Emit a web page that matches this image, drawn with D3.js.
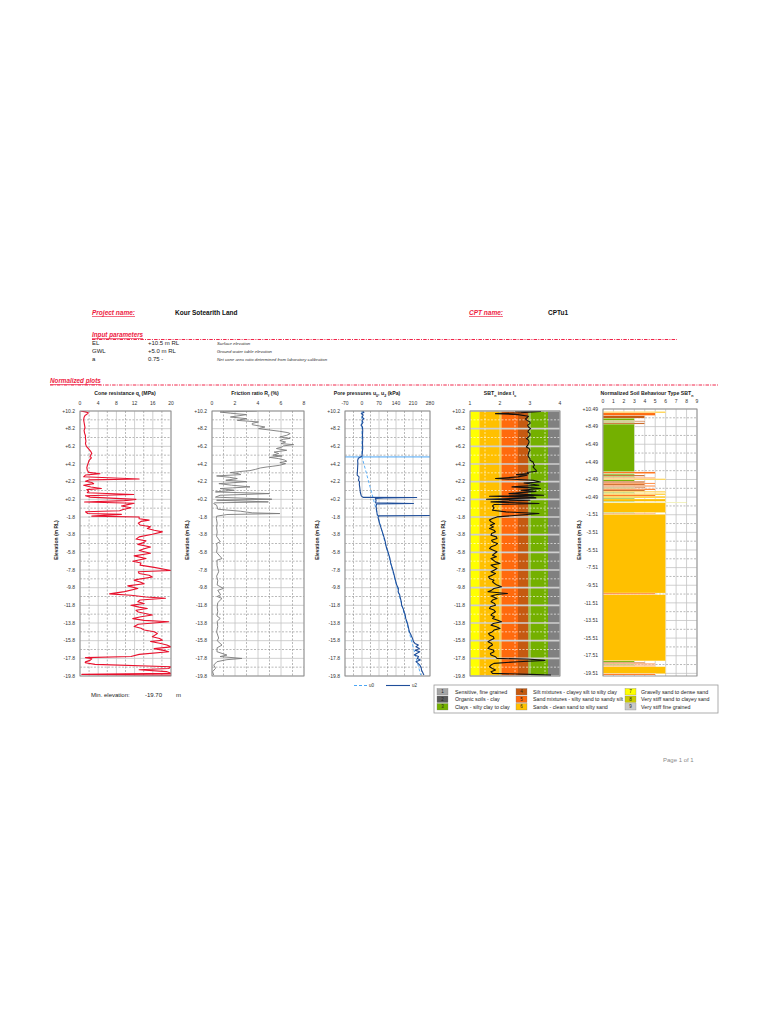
<!DOCTYPE html>
<html>
<head>
<meta charset="utf-8">
<script src="https://cdn.jsdelivr.net/npm/d3@7"></script>
<style>
  body { margin: 0; background: #fff; }
  svg { display: block; font-family: "Liberation Sans", Arial, sans-serif; }
</style>
</head>
<body>
<svg id="chart" width="768" height="1024"></svg>
<script>
// ---- data ----
var elevTicks = [10.2, 8.2, 6.2, 4.2, 2.2, 0.2, -1.8, -3.8, -5.8, -7.8, -9.8, -11.8, -13.8, -15.8, -17.8, -19.8];
var sbtElevTicks = [10.49, 8.49, 6.49, 4.49, 2.49, 0.49, -1.51, -3.51, -5.51, -7.51, -9.51, -11.51, -13.51, -15.51, -17.51, -19.51];
var qtTicks = [0, 4, 8, 12, 16, 20];
var rfTicks = [0, 2, 4, 6, 8];
var uTicks = [-70, 0, 70, 140, 210, 280];
var icTicks = [1, 2, 3, 4];
var sbtTicks = [0, 1, 2, 3, 4, 5, 6, 7, 8, 9];

var inputNames = ["EL", "GWL", "a"];
var inputValues = ["+10.5 m RL", "+5.0 m RL", "0.75 -"];
var inputNotes = ["Surface elevation", "Ground water table elevation", "Net cone area ratio determined from laboratory calibration"];
var minElevation = "-19.70";
var gwl = 5.0;

// [elevation m RL, cone resistance MPa]
var qt = [[10.2,0.1],[10.1,1.2],[10.0,1.8],[9.9,1.7],[9.7,1.1],[9.5,0.9],[9.2,0.8],[8.9,0.9],[8.6,1.0],[8.3,1.1],[8.0,0.9],[7.7,1.0],[7.4,1.2],[7.1,1.2],[6.8,1.3],[6.5,1.2],[6.2,1.4],[5.9,1.9],[5.6,2.4],[5.4,2.6],[5.1,2.2],[4.9,2.5],[4.6,2.0],[4.3,1.8],[4.0,1.6],[3.8,1.5],[3.5,1.6],[3.25,1.9],[3.1,4.4],[2.95,1.2],[2.75,0.8],[2.5,13.0],[2.4,2.0],[2.25,1.2],[2.1,2.6],[1.98,3.0],[1.8,0.8],[1.6,2.4],[1.42,4.7],[1.3,1.5],[1.1,1.9],[0.95,1.6],[0.75,11.8],[0.6,1.2],[0.45,2.2],[0.2,12.3],[0.05,9.8],[-0.1,1.0],[-0.25,11.9],[-0.4,10.5],[-0.55,9.1],[-0.75,11.2],[-0.95,9.5],[-1.1,8.7],[-1.2,1.2],[-1.4,1.7],[-1.5,9.1],[-1.7,2.6],[-1.8,13.0],[-2.0,13.0],[-2.15,15.2],[-2.3,13.4],[-2.5,12.8],[-2.7,13.2],[-2.9,15.5],[-3.1,14.8],[-3.3,16.3],[-3.48,18.1],[-3.75,15.9],[-4.05,13.0],[-4.3,12.3],[-4.5,14.5],[-4.7,14.0],[-4.9,12.7],[-5.2,15.5],[-5.4,14.1],[-5.6,13.0],[-5.9,15.5],[-6.2,11.9],[-6.5,14.5],[-6.8,11.6],[-7.0,13.4],[-7.25,13.2],[-7.5,16.3],[-7.85,20.0],[-8.0,12.8],[-8.2,13.0],[-8.4,15.2],[-8.6,15.9],[-8.8,13.4],[-8.95,11.9],[-9.15,13.2],[-9.35,14.1],[-9.6,10.5],[-9.9,12.7],[-10.25,9.8],[-10.5,6.5],[-10.65,11.2],[-10.85,14.5],[-11.0,18.8],[-11.2,13.2],[-11.4,12.7],[-11.6,14.1],[-11.8,11.2],[-12.0,13.0],[-12.15,14.8],[-12.35,12.3],[-12.55,12.8],[-12.9,15.9],[-13.1,13.4],[-13.3,11.6],[-13.5,14.1],[-13.66,19.5],[-13.95,12.8],[-14.2,11.9],[-14.4,13.4],[-14.6,14.1],[-14.8,16.3],[-15.0,17.0],[-15.35,15.9],[-15.55,17.5],[-15.75,18.1],[-15.9,15.5],[-16.1,17.5],[-16.3,19.1],[-16.5,20.0],[-16.7,16.3],[-16.9,18.4],[-17.05,19.5],[-17.35,13.0],[-17.6,11.2],[-17.72,1.2],[-17.85,2.6],[-18.03,2.2],[-18.2,1.2],[-18.3,1.15],[-18.48,3.3],[-18.75,20.0],[-18.95,19.5],[-19.1,13.0],[-19.3,19.0],[-19.5,20.0],[-19.62,0.4],[-19.7,20.0]];

// [elevation m RL, friction ratio %]
var rf = [[10.2,3.9],[10.09,0.7],[9.95,1.6],[9.79,3.0],[9.6,2.0],[9.52,1.6],[9.33,3.0],[9.14,2.2],[8.96,4.05],[8.8,3.5],[8.65,3.5],[8.39,4.6],[8.2,4.05],[8.05,5.0],[7.9,5.9],[7.75,6.6],[7.64,6.8],[7.45,6.5],[7.26,5.9],[7.1,6.8],[7.0,6.2],[6.85,5.9],[6.69,6.4],[6.51,6.0],[6.39,7.1],[6.25,6.2],[6.13,6.1],[5.95,5.6],[5.75,6.5],[5.55,5.4],[5.38,5.8],[5.2,5.3],[5.11,6.1],[4.95,5.0],[4.81,5.8],[4.65,6.3],[4.51,6.5],[4.36,5.9],[4.24,6.4],[4.06,5.9],[3.95,5.3],[3.87,4.8],[3.75,4.2],[3.6,3.8],[3.45,3.3],[3.38,2.7],[3.23,1.6],[3.11,2.3],[3.0,2.5],[2.85,0.4],[2.7,1.5],[2.55,2.2],[2.36,1.2],[2.2,3.0],[2.05,1.5],[1.98,0.6],[1.8,1.7],[1.61,3.3],[1.5,1.8],[1.42,0.7],[1.23,1.9],[1.04,0.3],[0.85,5.0],[0.66,0.7],[0.45,0.3],[0.21,5.2],[0.1,0.4],[-0.09,4.9],[-0.2,0.2],[-0.28,0.15],[-0.47,0.4],[-0.66,0.45],[-0.92,0.5],[-1.15,2.5],[-1.33,3.5],[-1.41,5.9],[-1.52,1.3],[-1.71,0.4],[-1.97,0.38],[-2.5,0.45],[-3.0,0.4],[-3.5,0.45],[-4.0,0.4],[-4.6,0.72],[-4.8,0.4],[-5.3,0.45],[-5.8,0.4],[-6.5,0.87],[-6.7,0.43],[-7.3,0.45],[-8.0,0.58],[-8.5,0.4],[-9.0,0.5],[-9.5,0.45],[-9.89,1.0],[-10.1,0.5],[-10.6,0.75],[-10.8,0.45],[-11.02,0.87],[-11.5,0.5],[-12.0,0.45],[-12.5,0.5],[-13.0,0.43],[-13.28,0.72],[-13.6,0.45],[-14.2,0.5],[-14.8,0.4],[-15.5,0.58],[-15.8,0.45],[-16.3,0.87],[-16.6,0.45],[-17.05,0.43],[-17.43,1.3],[-17.6,0.7],[-17.81,2.6],[-17.95,1.3],[-18.18,0.43],[-18.56,0.15],[-18.94,0.3],[-19.31,0.05],[-19.7,0.15]];

// [elevation m RL, u2 kPa]
var u2 = [[10.2,3],[10.05,8],[9.9,-3],[9.75,5],[9.5,0],[9.33,8],[9.14,0],[8.9,4],[8.6,-4],[8.39,2],[8.0,3],[7.5,2],[7.0,3],[6.5,2],[6.0,3],[5.4,1],[5.1,0],[5.0,-6],[4.85,-15],[4.6,-18],[4.3,-17],[3.8,-18],[3.3,-19],[2.95,-20],[2.75,-12],[2.5,-13],[2.36,-15],[2.2,-10],[1.9,-11],[1.5,-9],[1.0,-7],[0.6,-3],[0.47,2],[0.42,5],[0.4,225],[0.36,90],[0.3,55],[0.1,58],[-0.2,56],[-0.28,212],[-0.33,60],[-0.6,58],[-1.0,60],[-1.4,62],[-1.6,63],[-1.63,290],[-1.67,70],[-1.85,66],[-2.5,72],[-3.0,78],[-3.86,88],[-4.5,95],[-5.2,100],[-5.74,107],[-6.5,115],[-7.0,118],[-7.63,125],[-8.2,131],[-9.0,138],[-9.51,143],[-9.9,150],[-10.3,149],[-10.6,155],[-11.0,158],[-11.4,162],[-11.8,163],[-12.2,170],[-12.53,173],[-12.9,178],[-13.28,180],[-13.66,185],[-14.04,189],[-14.4,192],[-14.79,195],[-15.17,202],[-15.55,208],[-15.9,212],[-16.11,218],[-16.3,232],[-16.49,222],[-16.68,236],[-16.9,220],[-17.05,238],[-17.25,225],[-17.43,215],[-17.6,233],[-17.81,228],[-18.0,240],[-18.18,222],[-18.4,232],[-18.56,238],[-18.9,244],[-19.12,245],[-19.4,250],[-19.7,255]];

// [elevation m RL, u0 kPa]
var u0 = [[10.2,0],[5.0,0],[-19.7,242]];

// [elevation m RL, Ic]
var ic = [[10.2,2.5],[10.15,3.35],[10.0,2.7],[9.9,1.85],[9.79,2.6],[9.6,2.95],[9.3,2.85],[9.14,2.9],[8.96,3.0],[8.77,3.0],[8.6,2.92],[8.39,2.95],[8.2,3.02],[8.0,2.95],[7.83,2.93],[7.64,3.0],[7.45,3.0],[7.26,2.95],[7.07,2.88],[6.9,2.95],[6.69,2.97],[6.51,2.95],[6.3,2.92],[6.13,2.88],[5.95,2.97],[5.75,3.0],[5.55,2.96],[5.38,2.95],[5.2,2.93],[5.0,2.95],[4.81,3.0],[4.62,3.0],[4.43,3.1],[4.24,3.12],[4.06,3.15],[3.87,3.1],[3.68,3.15],[3.5,3.2],[3.38,3.22],[3.23,2.9],[3.11,2.95],[3.0,2.55],[2.93,2.9],[2.74,2.6],[2.55,1.85],[2.45,2.6],[2.36,3.1],[2.17,3.35],[2.05,2.8],[1.79,3.3],[1.61,2.4],[1.5,3.1],[1.42,3.35],[1.23,2.7],[1.1,3.2],[0.85,2.3],[0.66,3.45],[0.55,1.65],[0.45,3.1],[0.36,3.2],[0.21,1.55],[0.1,3.0],[-0.01,2.1],[-0.09,1.7],[-0.2,2.6],[-0.28,3.3],[-0.39,1.8],[-0.54,1.75],[-0.77,1.8],[-1.03,1.75],[-1.22,2.2],[-1.41,3.3],[-1.6,2.6],[-1.79,1.9],[-1.97,1.75],[-2.15,1.65],[-2.35,1.7],[-2.55,1.82],[-2.73,1.68],[-2.92,1.78],[-3.11,1.65],[-3.3,1.8],[-3.48,1.85],[-3.67,1.72],[-3.86,1.7],[-4.05,1.88],[-4.24,1.9],[-4.43,1.72],[-4.61,1.75],[-4.8,1.92],[-4.99,1.85],[-5.18,1.7],[-5.37,1.65],[-5.56,1.78],[-5.74,1.9],[-5.93,1.82],[-6.12,1.75],[-6.3,1.88],[-6.5,1.7],[-6.69,1.78],[-6.88,1.85],[-7.06,2.0],[-7.25,1.7],[-7.44,1.78],[-7.63,1.9],[-7.82,1.8],[-8.01,1.7],[-8.19,1.85],[-8.38,1.75],[-8.57,1.62],[-8.76,1.65],[-8.95,1.8],[-9.14,1.75],[-9.33,1.82],[-9.51,1.9],[-9.7,2.05],[-9.89,1.8],[-10.08,1.72],[-10.27,1.6],[-10.46,2.25],[-10.57,1.9],[-10.75,1.7],[-11.02,1.9],[-11.2,1.75],[-11.4,1.7],[-11.6,1.82],[-11.78,1.85],[-11.97,1.68],[-12.15,1.65],[-12.34,1.8],[-12.53,1.85],[-12.72,1.75],[-12.91,1.7],[-13.1,1.82],[-13.28,1.75],[-13.47,1.9],[-13.66,2.05],[-13.85,1.78],[-14.04,1.7],[-14.23,1.88],[-14.42,2.0],[-14.6,1.8],[-14.79,1.75],[-14.98,1.62],[-15.17,1.65],[-15.36,1.78],[-15.55,1.8],[-15.74,1.68],[-15.92,1.6],[-16.11,1.72],[-16.3,1.75],[-16.49,1.65],[-16.68,1.6],[-16.86,1.78],[-17.05,1.8],[-17.24,1.68],[-17.43,1.7],[-17.62,1.85],[-17.81,1.9],[-17.88,2.9],[-18.03,3.5],[-18.18,2.6],[-18.37,1.8],[-18.56,1.7],[-18.75,1.65],[-18.94,1.75],[-19.12,1.85],[-19.31,1.7],[-19.5,1.75],[-19.62,3.0],[-19.7,3.7]];

// Ic zone boundaries and band colours (gravelly sand .. organic)
var icBandEdges = [1, 1.31, 2.05, 2.6, 2.95, 3.6, 4];
var icBandColors = ["#ffff00", "#ffc000", "#ff6a0d", "#c55a11", "#74b000", "#808080"];

// SBTn layers: [top elevation m RL, zone]; last layer ends at minimum elevation
var sbtLayers = [[10.2,6],[10.05,5],[9.75,4],[9.45,3],[9.15,4],[9.05,3],[8.92,4],[8.78,3],[3.35,5],[3.15,3],[3.0,4],[2.85,3],[2.72,5],[2.58,6],[2.45,3],[2.3,4],[2.1,5],[1.98,4],[1.82,5],[1.68,4],[1.55,3],[1.45,5],[1.3,4],[1.16,6],[1.02,3],[0.9,6],[0.74,5],[0.6,6],[0.4,3],[0.28,6],[0.0,3],[-0.08,8],[-0.16,6],[-1.27,3],[-1.36,5],[-1.46,6],[-10.4,5],[-10.58,6],[-18.1,3],[-18.25,4],[-18.38,5],[-18.5,3],[-18.62,5],[-18.75,6],[-19.56,5]];
var sbtBottom = -19.7;

var zoneNums = [1, 2, 3, 4, 5, 6, 7, 8, 9];
var zoneColors = ["#a6a6a6", "#5a5a5a", "#74b000", "#c55a11", "#ff6a0d", "#ffc000", "#ffff00", "#cccc00", "#c8c8c8"];
var zoneNames = ["Sensitive, fine grained", "Organic soils - clay", "Clays - silty clay to clay",
  "Silt mixtures - clayey silt to silty clay", "Sand mixtures - silty sand to sandy silt", "Sands - clean sand to silty sand",
  "Gravelly sand to dense sand", "Very stiff sand to clayey sand", "Very stiff fine grained"];

// ---- drawing ----
var svg = d3.select("#chart");
var RED = "#ee1c3f";

var yStd = d3.scaleLinear().domain([10.2, -19.8]).range([411, 676]);
var ySbt = d3.scaleLinear().domain([10.49, -19.81]).range([409, 676]);

function fmtElev(d) {
  var dec = Math.abs(d * 10 - Math.round(d * 10)) > 1e-6 ? 2 : 1;
  return (d > 0 ? "+" : "") + d.toFixed(dec);
}

// text with subscripts: parts = [[text, isSub], ...]
function richText(g, parts, x, y, size, anchor) {
  var t = g.append("text").attr("x", x).attr("y", y)
    .attr("font-size", size).attr("font-weight", "bold")
    .attr("text-anchor", anchor || "middle").attr("fill", "#222");
  parts.forEach(function (p) {
    var s = t.append("tspan").text(p[0]);
    if (p[1]) s.attr("font-size", size * 0.7).attr("baseline-shift", "sub");
  });
  return t;
}

var panels = [
  { id: "qt", xr: [80, 171], dom: [0, 20], ticks: qtTicks, y: yStd, yTicks: elevTicks, mode: "std", titleX: 125,
    title: [["Cone resistance q"], ["t", 1], [" (MPa)"]], ytX: 58 },
  { id: "rf", xr: [212, 304], dom: [0, 8], ticks: rfTicks, y: yStd, yTicks: elevTicks, mode: "std", titleX: 255,
    title: [["Friction ratio R"], ["f", 1], [" (%)"]], ytX: 189 },
  { id: "u", xr: [345, 430], dom: [-70, 280], ticks: uTicks, y: yStd, yTicks: elevTicks, mode: "std", titleX: 367,
    title: [["Pore pressures u"], ["0", 1], [", u"], ["2", 1], [" (kPa)"]], ytX: 319 },
  { id: "ic", xr: [470, 560], dom: [1, 4], ticks: icTicks, y: yStd, yTicks: elevTicks, mode: "ic", titleX: 500,
    title: [["SBT"], ["n", 1], [" index I"], ["c", 1]], ytX: 445 },
  { id: "sbt", xr: [603, 697], dom: [0, 9], ticks: sbtTicks, y: ySbt, yTicks: sbtElevTicks, mode: "sbt", titleX: 647,
    title: [["Normalized Soil Behaviour Type SBT"], ["n", 1]], ytX: 581 }
];

var defs = svg.append("defs");

panels.forEach(function (p) {
  var x = d3.scaleLinear().domain(p.dom).range(p.xr);
  var y = p.y;
  p.x = x;
  var g = svg.append("g").attr("class", "panel-" + p.id);
  p.g = g;
  var top = y.range()[0], bot = y.range()[1];
  var x0 = p.xr[0], x1 = p.xr[1];

  defs.append("clipPath").attr("id", "clip-" + p.id)
    .append("rect").attr("x", x0).attr("y", top).attr("width", x1 - x0).attr("height", bot - top);

  // background bands for Ic
  if (p.mode === "ic") {
    g.selectAll("rect.band").data(d3.pairs(icBandEdges)).enter().append("rect")
      .attr("class", "band")
      .attr("x", function (d) { return x(d[0]); })
      .attr("width", function (d) { return x(d[1]) - x(d[0]); })
      .attr("y", top).attr("height", bot - top)
      .attr("fill", function (d, i) { return icBandColors[i]; });
  }

  var minorY = d3.pairs(p.yTicks).map(function (d) { return (d[0] + d[1]) / 2; });
  var minorX = p.mode === "sbt" ? [] : d3.pairs(p.ticks).map(function (d) { return (d[0] + d[1]) / 2; });
  var majorStroke = p.mode === "ic" ? "#cfcfcf" : "#c4c4c4";
  var minorStroke = p.mode === "ic" ? "#ffffff" : "#8a8a8a";
  var majorW = p.mode === "ic" ? 1.6 : 0.8;

  // horizontal grid
  g.selectAll("line.hmin").data(minorY).enter().append("line")
    .attr("x1", x0).attr("x2", x1)
    .attr("y1", function (d) { return y(d); }).attr("y2", function (d) { return y(d); })
    .attr("stroke", minorStroke).attr("stroke-width", 0.6).attr("stroke-dasharray", "2,1.5");
  g.selectAll("line.hmaj").data(p.yTicks).enter().append("line")
    .attr("x1", x0).attr("x2", x1)
    .attr("y1", function (d) { return y(d); }).attr("y2", function (d) { return y(d); })
    .attr("stroke", majorStroke).attr("stroke-width", majorW);
  // vertical grid
  g.selectAll("line.vmin").data(minorX).enter().append("line")
    .attr("y1", top).attr("y2", bot)
    .attr("x1", function (d) { return x(d); }).attr("x2", function (d) { return x(d); })
    .attr("stroke", minorStroke).attr("stroke-width", 0.6).attr("stroke-dasharray", "2,1.5");
  g.selectAll("line.vmaj").data(p.ticks).enter().append("line")
    .attr("y1", top).attr("y2", bot)
    .attr("x1", function (d) { return x(d); }).attr("x2", function (d) { return x(d); })
    .attr("stroke", p.mode === "ic" ? "#dedede" : "#c4c4c4").attr("stroke-width", 0.8);

  // tick labels
  g.selectAll("text.xt").data(p.ticks).enter().append("text")
    .attr("x", function (d) { return x(d); }).attr("y", top - 6)
    .attr("text-anchor", "middle").attr("font-size", 5).attr("fill", "#333")
    .text(function (d) { return d; });
  g.selectAll("text.yt").data(p.yTicks).enter().append("text")
    .attr("x", x0 - 5).attr("y", function (d) { return y(d); }).attr("dy", "0.35em")
    .attr("text-anchor", "end").attr("font-size", 5).attr("fill", "#333")
    .text(fmtElev);

  richText(g, p.title, p.titleX, 395, 5.2);
  g.append("text").attr("transform", "translate(" + p.ytX + ",540) rotate(-90)")
    .attr("text-anchor", "middle").attr("font-size", 5).attr("font-weight", "bold").attr("fill", "#222")
    .text("Elevation (m RL)");

  p.plot = g.append("g").attr("clip-path", "url(#clip-" + p.id + ")");
});

function trace(p, data, color, width, dash) {
  var line = d3.line().x(function (d) { return p.x(d[1]); }).y(function (d) { return p.y(d[0]); });
  var path = p.plot.append("path").datum(data).attr("d", line)
    .attr("fill", "none").attr("stroke", color).attr("stroke-width", width).attr("stroke-linejoin", "round");
  if (dash) path.attr("stroke-dasharray", dash);
}

trace(panels[0], qt, "#e8112d", 1.1);
trace(panels[1], rf, "#7a7a7a", 0.9);

// pore pressure: water table, u0, u2
panels[2].plot.append("line")
  .attr("x1", panels[2].xr[0]).attr("x2", panels[2].xr[1])
  .attr("y1", yStd(gwl)).attr("y2", yStd(gwl))
  .attr("stroke", "#4ba6f5").attr("stroke-width", 1);
trace(panels[2], u0, "#4ba6f5", 0.9, "3,2");
trace(panels[2], u2, "#1f4e9a", 1.1);

trace(panels[3], ic, "#111", 1.1);

// SBTn bars
(function () {
  var p = panels[4];
  var layers = sbtLayers.map(function (d, i) {
    return { top: d[0], bottom: i + 1 < sbtLayers.length ? sbtLayers[i + 1][0] : sbtBottom, zone: d[1] };
  });
  p.plot.selectAll("rect.layer").data(layers).enter().append("rect")
    .attr("x", p.x(0))
    .attr("width", function (d) { return p.x(d.zone) - p.x(0); })
    .attr("y", function (d) { return p.y(d.top); })
    .attr("height", function (d) { return p.y(d.bottom) - p.y(d.top); })
    .attr("fill", function (d) { return zoneColors[d.zone - 1]; })
    .attr("stroke", "#fff").attr("stroke-width", 0.35);
})();

// frames on top
panels.forEach(function (p) {
  var top = p.y.range()[0], bot = p.y.range()[1];
  p.g.append("rect").attr("x", p.xr[0]).attr("y", top)
    .attr("width", p.xr[1] - p.xr[0]).attr("height", bot - top)
    .attr("fill", "none").attr("stroke", "#8c8c8c").attr("stroke-width", 0.9);
});

// pore pressure legend
(function () {
  var g = svg.append("g");
  g.append("line").attr("x1", 354).attr("x2", 367).attr("y1", 685.5).attr("y2", 685.5)
    .attr("stroke", "#4ba6f5").attr("stroke-width", 1).attr("stroke-dasharray", "3,2");
  g.append("text").attr("x", 369).attr("y", 687).attr("font-size", 4.5).attr("fill", "#333").text("u0");
  g.append("line").attr("x1", 386).attr("x2", 410).attr("y1", 685.5).attr("y2", 685.5)
    .attr("stroke", "#1f4e9a").attr("stroke-width", 1.1);
  g.append("text").attr("x", 412).attr("y", 687).attr("font-size", 4.5).attr("fill", "#333").text("u2");
})();

// SBTn legend box
(function () {
  var g = svg.append("g");
  g.append("rect").attr("x", 434).attr("y", 685).attr("width", 284).attr("height", 28)
    .attr("fill", "#fff").attr("stroke", "#9a9a9a").attr("stroke-width", 0.8);
  var colX = [437, 516, 625];
  var txtX = [455, 533, 641];
  var rowY = [688.5, 696, 703.5];
  var items = g.selectAll("g.item").data(zoneNums).enter().append("g")
    .attr("transform", function (d, i) {
      return "translate(" + colX[Math.floor(i / 3)] + "," + rowY[i % 3] + ")";
    });
  items.append("rect").attr("width", 11).attr("height", 6.5)
    .attr("fill", function (d, i) { return zoneColors[i]; })
    .attr("stroke", "#777").attr("stroke-width", 0.3);
  items.append("text").attr("x", 5.5).attr("y", 4.9).attr("text-anchor", "middle")
    .attr("font-size", 4.5).attr("fill", "#222").text(function (d) { return d; });
  items.append("text")
    .attr("x", function (d, i) { return txtX[Math.floor(i / 3)] - colX[Math.floor(i / 3)]; })
    .attr("y", 5).attr("font-size", 5.3).attr("fill", "#222")
    .text(function (d, i) { return zoneNames[i]; });
})();

// header
(function () {
  var g = svg.append("g");
  function redLabel(txt, x, y, size, underline) {
    var t = g.append("text").attr("x", x).attr("y", y).attr("font-size", size)
      .attr("font-weight", "bold").attr("font-style", "italic").attr("fill", RED).text(txt);
    if (underline) t.attr("text-decoration", "underline");
  }
  redLabel("Project name:", 92, 315, 6.5, true);
  g.append("text").attr("x", 175).attr("y", 315).attr("font-size", 6.5).attr("font-weight", "bold").attr("fill", "#111")
    .text("Kour Sotearith Land");
  redLabel("CPT name:", 469, 315, 6.5, true);
  g.append("text").attr("x", 548).attr("y", 315).attr("font-size", 6.5).attr("font-weight", "bold").attr("fill", "#111")
    .text("CPTu1");

  redLabel("Input parameters", 92, 337, 6.3, true);
  g.append("line").attr("x1", 92).attr("x2", 677).attr("y1", 339.5).attr("y2", 339.5)
    .attr("stroke", "#f0264a").attr("stroke-width", 1).attr("stroke-dasharray", "3.5,1.2,1,1.2");

  var rowsY = [345, 353, 361];
  inputNames.forEach(function (n, i) {
    g.append("text").attr("x", 92).attr("y", rowsY[i]).attr("font-size", 6).attr("fill", "#222").text(n);
    g.append("text").attr("x", 148).attr("y", rowsY[i]).attr("font-size", 6).attr("fill", "#222").text(inputValues[i]);
    g.append("text").attr("x", 217).attr("y", rowsY[i] - 0.5).attr("font-size", 4.3).attr("font-style", "italic")
      .attr("fill", "#333").text(inputNotes[i]);
  });

  redLabel("Normalized plots", 50, 383, 6.3, true);
  g.append("line").attr("x1", 50).attr("x2", 718).attr("y1", 385).attr("y2", 385)
    .attr("stroke", "#f0264a").attr("stroke-width", 1).attr("stroke-dasharray", "3.5,1.2,1,1.2");

  g.append("text").attr("x", 91).attr("y", 697).attr("font-size", 6).attr("fill", "#222").text("Min. elevation:");
  g.append("text").attr("x", 145).attr("y", 697).attr("font-size", 6).attr("fill", "#222").text(minElevation);
  g.append("text").attr("x", 176).attr("y", 697).attr("font-size", 6).attr("fill", "#222").text("m");

  g.append("text").attr("x", 663).attr("y", 762).attr("font-size", 6).attr("fill", "#8a8a8a").text("Page 1 of 1");
})();
</script>
</body>
</html>
